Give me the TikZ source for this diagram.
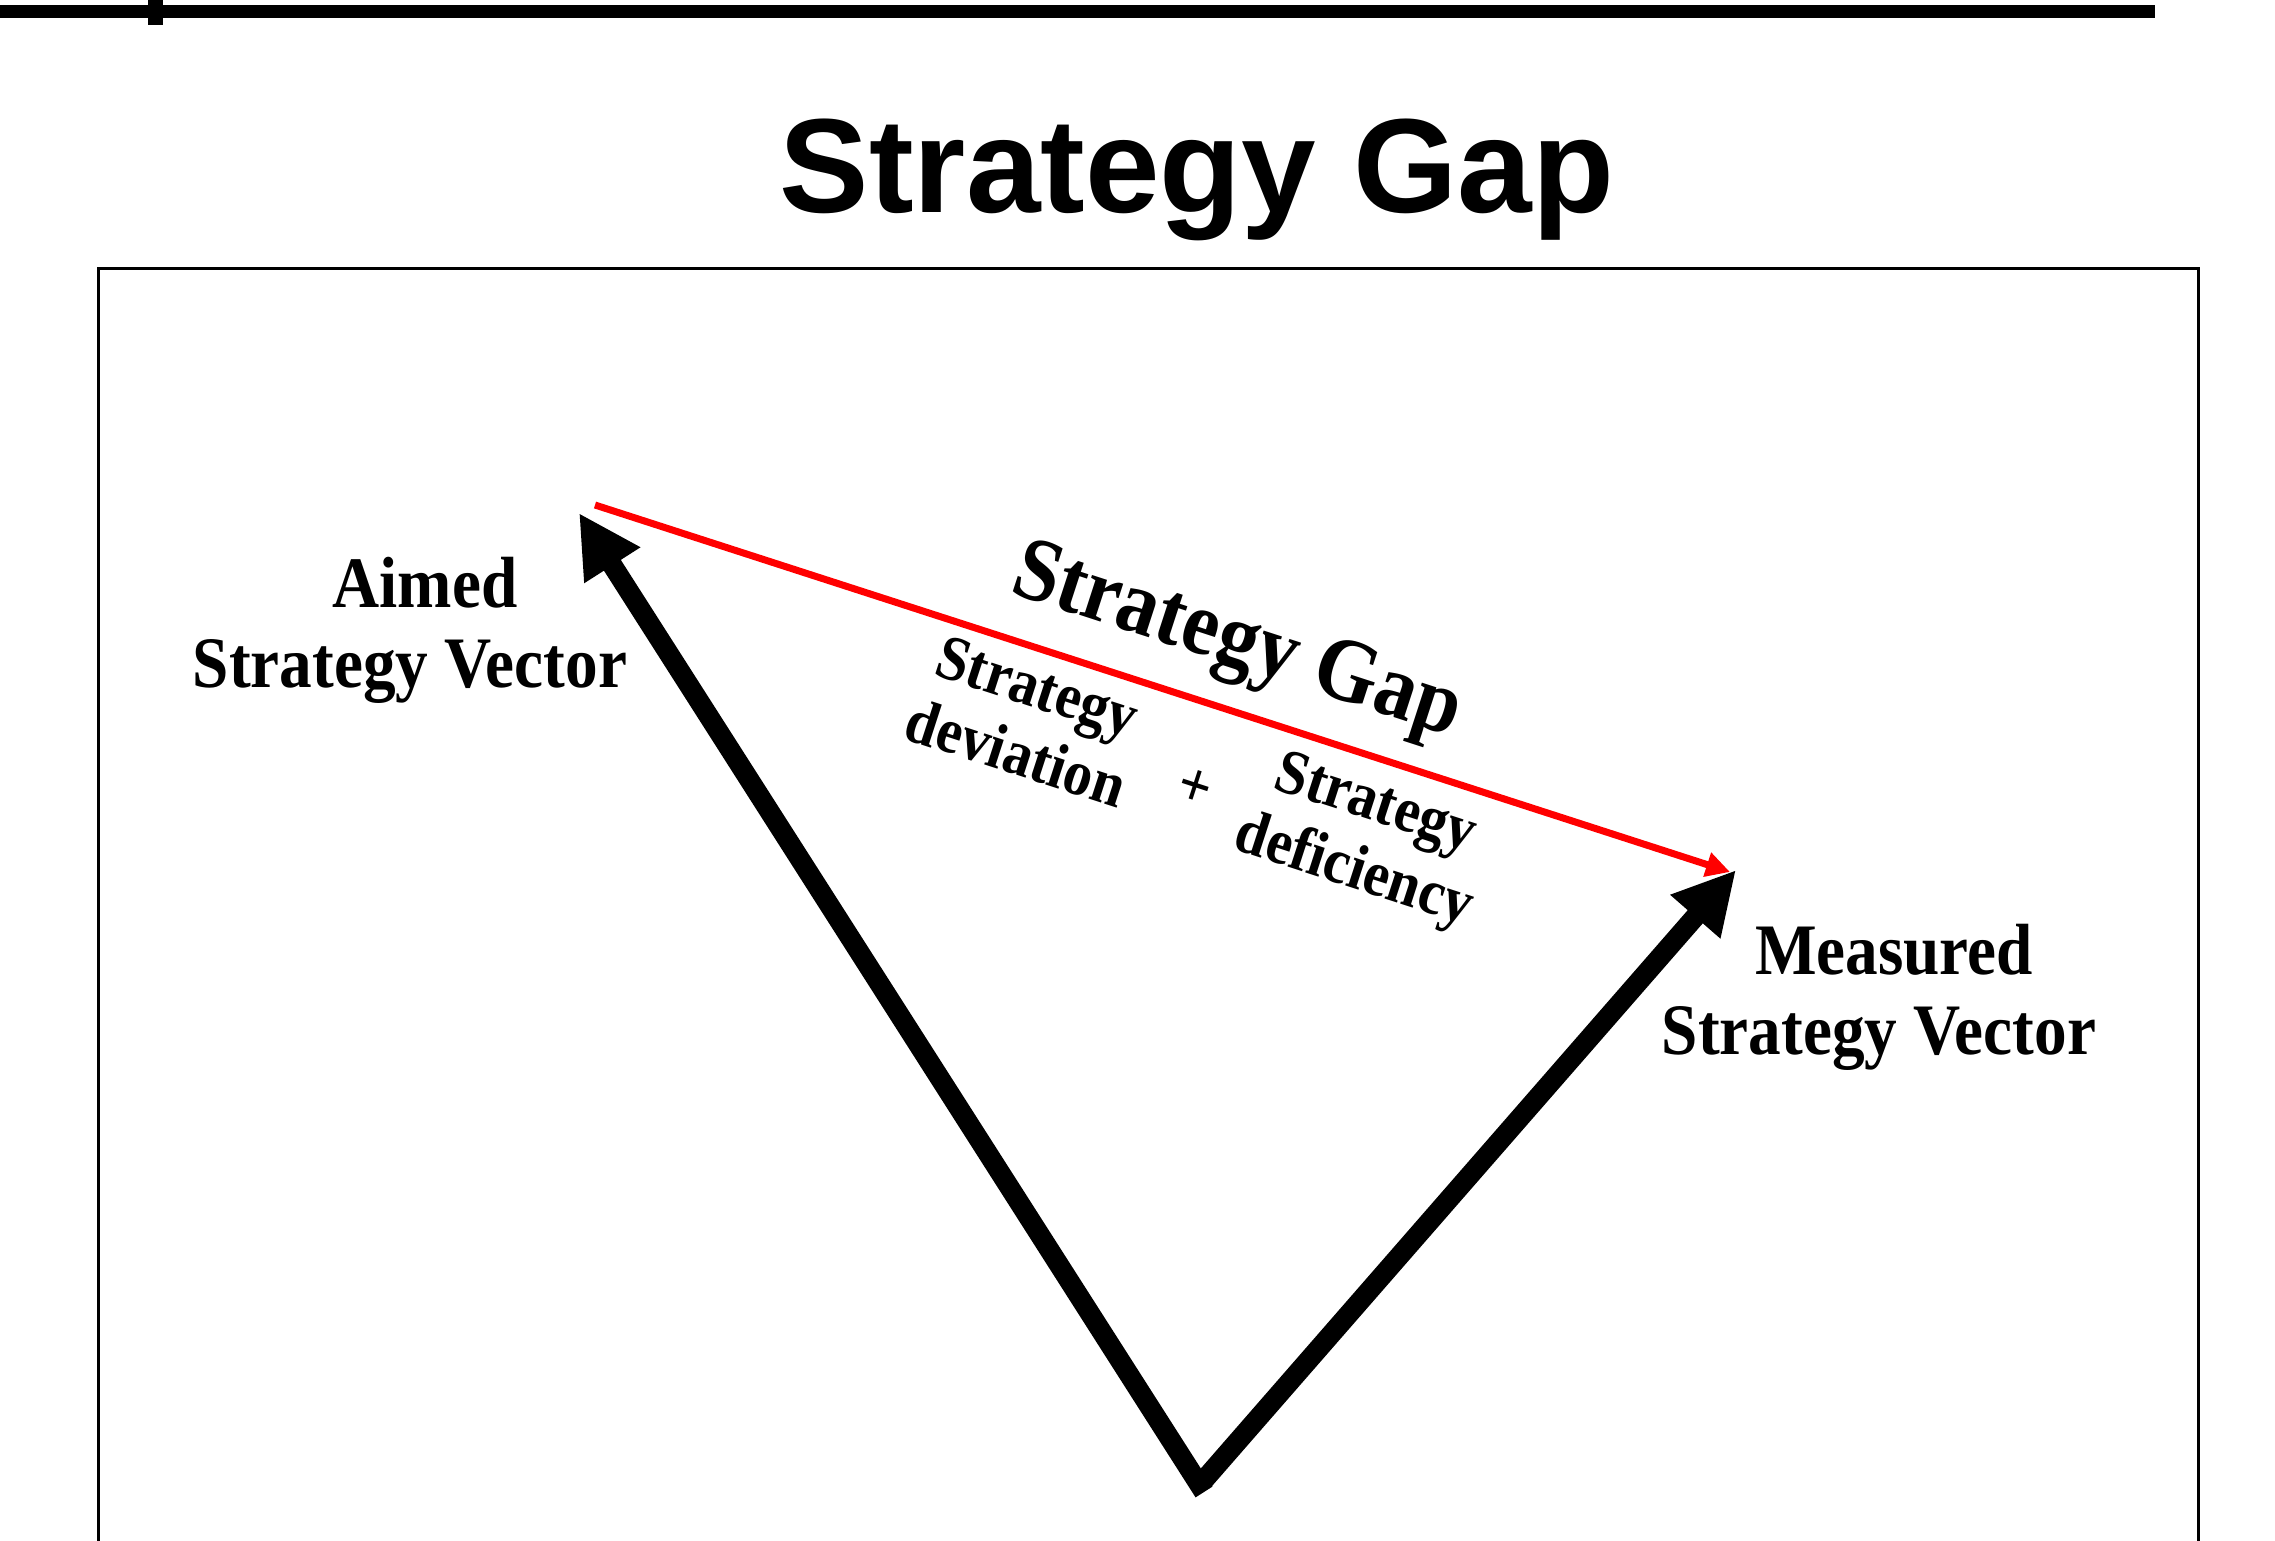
\documentclass[tikz,border=0pt]{standalone}
\usepackage{fontspec}
\setmainfont{Liberation Serif}
\newfontfamily\titlefont{Liberation Sans}
\newfontfamily\labfont{Liberation Serif}[FakeStretch=0.9]
\usetikzlibrary{arrows.meta}
\definecolor{gapred}{RGB}{255,0,0}
\begin{document}
\begin{tikzpicture}[x=1pt,y=-1pt,
  vecarrow/.style={line width=20pt, line cap=butt, -{Triangle[length=62pt,width=62pt]}},
  gaparrow/.style={draw=gapred, line width=7pt, -{Triangle[length=24pt,width=24pt]}},
  veclabel/.style={font=\labfont\bfseries\fontsize{72.5}{80}\selectfont, align=center, inner sep=0pt},
  gaplabel/.style={font=\labfont\bfseries\fontsize{91}{98}\selectfont, inner sep=0pt, rotate=-18},
  partlabel/.style={font=\labfont\bfseries\fontsize{64}{70}\selectfont, align=center, inner sep=0pt, rotate=-18},
]
\useasboundingbox (0,0) rectangle (2275,1541);
\clip (0,0) rectangle (2275,1541);
\fill[white] (0,0) rectangle (2275,1541);
% header rule and tick
\draw[line width=13pt] (0,11.5) -- (2155,11.5);
\fill (148,0) rectangle (163,25);
% title
\node[font=\titlefont\bfseries\fontsize{134}{140}\selectfont, anchor=base, inner sep=0pt] (title) at (1197,213) {Strategy Gap};
% frame
\draw[line width=3pt] (98,268) rectangle (2198,1600);
% points
\coordinate (A) at (579,513);
\coordinate (M) at (1736,870);
\coordinate (OL) at (1204,1492);
\coordinate (OR) at (1204,1480);
\coordinate (GS) at (595,505);
\coordinate (GE) at (1730,872);
% vectors
\draw[vecarrow] (OL) -- (A);
\draw[vecarrow] (OR) -- (M);
\draw[gaparrow] (GS) -- (GE);
% labels
\node[veclabel] (aimed) at (410,630.5) {\hspace*{30pt}Aimed\\Strategy Vector};
\node[veclabel] (measured) at (1879,997.5) {\hspace*{30pt}Measured\\Strategy Vector};
\node[gaplabel] (gap) at (1236,645) {Strategy Gap};
\node[partlabel] (dev) at (1027,720) {Strategy\\deviation};
\node[partlabel] (plus) at (1195,788) {+};
\node[partlabel] (def) at (1364,840) {Strategy\\deficiency};
\end{tikzpicture}
\end{document}
